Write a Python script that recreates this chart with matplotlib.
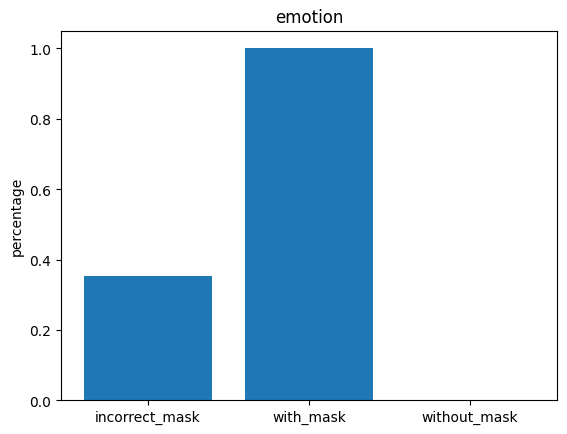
import matplotlib
matplotlib.use('Agg')
import matplotlib.pyplot as plt

categories = ['incorrect_mask', 'with_mask', 'without_mask']
percentage = [0.354, 1.0, 0.0]

fig = plt.figure(figsize=(5.67, 4.35), dpi=100)
ax = fig.add_axes([61/567, 33.7/435, 496/567, 369.6/435])
ax.bar(categories, percentage, color='#1f77b4')
ax.set_title('emotion')
ax.set_ylabel('percentage')

fig.savefig('out.png', dpi=100)
